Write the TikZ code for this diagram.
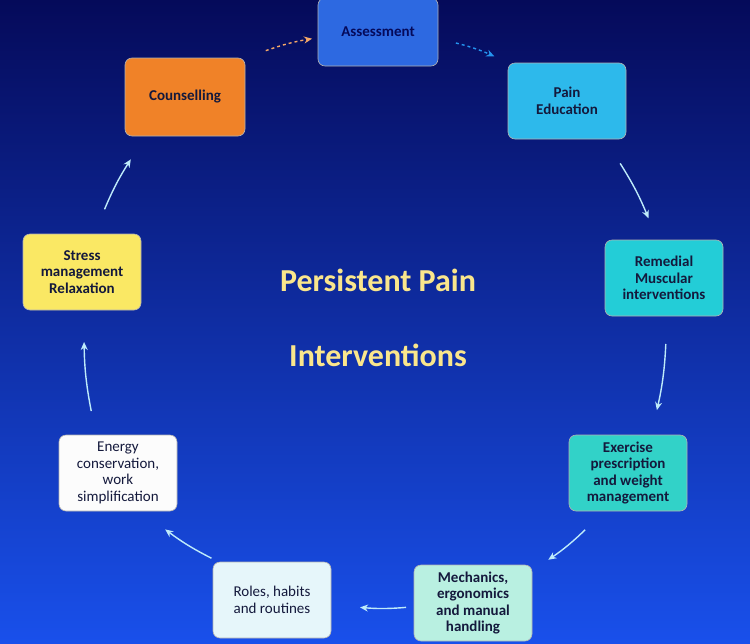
\documentclass[tikz,border=0pt]{standalone}
\usepackage{fontspec}
\setmainfont{Carlito}
\usetikzlibrary{arrows.meta}
\definecolor{bgtop}{RGB}{5,10,90}
\definecolor{bgmid}{RGB}{15,50,190}
\definecolor{bgbot}{RGB}{25,80,235}
\definecolor{cAss}{RGB}{45,105,225}
\definecolor{cPain}{RGB}{45,185,235}
\definecolor{cRem}{RGB}{35,205,215}
\definecolor{cEx}{RGB}{50,210,200}
\definecolor{cMech}{RGB}{185,240,225}
\definecolor{cRole}{RGB}{230,246,250}
\definecolor{cEn}{RGB}{252,252,252}
\definecolor{cStr}{RGB}{250,232,100}
\definecolor{cCou}{RGB}{240,130,40}
\definecolor{ttl}{RGB}{250,230,140}
\definecolor{arr}{RGB}{190,235,250}
\definecolor{txt}{RGB}{20,25,60}
\tikzset{
 box/.style={draw=white!70!black, line width=0.6pt, rounded corners=7pt, minimum width=118pt, minimum height=76pt, align=center, font=\fontsize{15}{16.5}\selectfont\bfseries, text=txt, inner sep=2pt},
 conn/.style={-{Stealth[length=8pt,width=7pt]}, line width=1.4pt, draw=arr, shorten >=4pt, shorten <=4pt},
}
\begin{document}
\begin{tikzpicture}[x=1pt,y=-1pt]
\useasboundingbox (0,0) rectangle (750,643);
\shade[top color=bgtop, middle color=bgmid, bottom color=bgbot] (0,0) rectangle (750,643);
\node[box, fill=cAss, minimum width=120pt, minimum height=68pt, text=bgtop] (ass) at (378,32) {Assessment};
\node[box, fill=cPain] (pain) at (567,101) {Pain\\Education};
\node[box, fill=cRem] (rem) at (664,278) {Remedial\\Muscular\\interventions};
\node[box, fill=cEx] (ex) at (628,473) {Exercise\\prescription\\and weight\\management};
\node[box, fill=cMech] (mech) at (473,603) {Mechanics,\\ergonomics\\and manual\\handling};
\node[box, fill=cRole, font=\fontsize{15}{16.5}\selectfont] (role) at (272,600) {Roles, habits\\and routines};
\node[box, fill=cEn, font=\fontsize{15}{16.5}\selectfont] (en) at (118,473) {Energy\\conservation,\\work\\simplification};
\node[box, fill=cStr] (str) at (82,272) {Stress\\management\\Relaxation};
\node[box, fill=cCou, minimum width=120pt, minimum height=78pt] (cou) at (185,97) {Counselling};
\node[font=\fontsize{32}{36}\selectfont\bfseries, text=ttl] (t1) at (378,280) {Persistent Pain};
\node[font=\fontsize{32}{36}\selectfont\bfseries, text=ttl] (t2) at (378,355) {Interventions};
\coordinate (a1) at (262,52); \coordinate (a2) at (316,38);
\coordinate (b1) at (452,42); \coordinate (b2) at (498,58);
\coordinate (c1) at (618,160); \coordinate (c2) at (650,222);
\coordinate (d1) at (666,340); \coordinate (d2) at (656,414);
\coordinate (e1) at (588,527); \coordinate (e2) at (545,562);
\coordinate (f1) at (410,607); \coordinate (f2) at (356,607);
\coordinate (g1) at (215,560); \coordinate (g2) at (162,527);
\coordinate (h1) at (92,415); \coordinate (h2) at (84,338);
\coordinate (i1) at (103,213); \coordinate (i2) at (133,156);
\draw[conn, draw=cCou!70!white, dashed] (a1) to[bend left=5] (a2);
\draw[conn, draw=cPain!80!blue, dashed] (b1) to[bend left=5] (b2);
\draw[conn] (c1) to[bend left=5] (c2);
\draw[conn] (d1) to[bend left=5] (d2);
\draw[conn] (e1) to[bend left=5] (e2);
\draw[conn] (f1) to[bend left=5] (f2);
\draw[conn] (g1) to[bend left=5] (g2);
\draw[conn] (h1) to[bend left=5] (h2);
\draw[conn] (i1) to[bend left=5] (i2);
\end{tikzpicture}
\end{document}
